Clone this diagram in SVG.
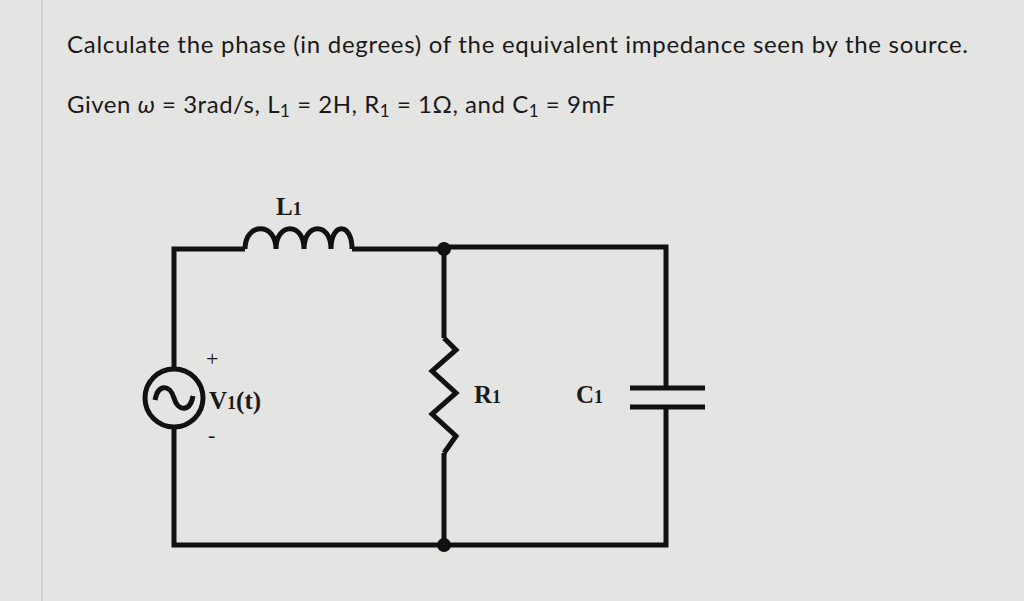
<svg xmlns="http://www.w3.org/2000/svg" width="1024" height="601" viewBox="0 0 1024 601">
<style>
.w{fill:none;stroke:#111;stroke-width:5;stroke-linejoin:miter}
.q{font-family:Lato,"Liberation Sans",sans-serif;font-size:24px;fill:#1a1a1a}
.s{font-family:"Liberation Serif",serif;font-size:25px;font-weight:bold;fill:#1a1a1a}
</style>
<rect width="1024" height="601" fill="#e4e4e2"/>
<line x1="42" y1="0" x2="42" y2="601" stroke="#cfcfcd" stroke-width="2"/>
<text class="q" x="67" y="53" textLength="901">Calculate the phase (in degrees) of the equivalent impedance seen by the source.</text>
<text class="q" x="67" y="113" textLength="548">Given <tspan font-style="italic">ω</tspan> = 3rad/s, L<tspan font-size="17" dy="4">1</tspan><tspan dy="-4"> = 2H, R</tspan><tspan font-size="17" dy="4">1</tspan><tspan dy="-4"> = 1Ω, and C</tspan><tspan font-size="17" dy="4">1</tspan><tspan dy="-4"> = 9mF</tspan></text>
<g id="connectors">
<path class="w" d="M174 368 V249 H245 M352 249 H444 M444 247 H666 V388 M666 407 V545 H444 M444 545 H174 V428 M444 249 V338 M444 453 V545"/>
</g>
<g id="L1">
<path class="w" d="M245 249 C245 222 276 222 276 249 C276 222 304 222 304 249 C304 222 331 222 331 249 C331 222 352 222 352 249"/>
<text class="s" x="276" y="215">L<tspan font-size="18">1</tspan></text>
</g>
<g id="V1">
<circle class="w" cx="174" cy="398" r="29"/>
<path class="w" d="M155 400 C158 384 170 384 174 398 C178 412 190 412 193 396" stroke-width="4"/>
<text x="206" y="366" font-family="Liberation Serif,serif" font-size="22" fill="#1a1a1a">+</text>
<text x="208" y="442" font-family="Liberation Serif,serif" font-size="22" fill="#1a1a1a">-</text>
<text class="s" x="209" y="409">V<tspan font-size="18">1</tspan>(t)</text>
</g>
<g id="R1">
<path class="w" d="M444 338 L456 350 L432 371 L456 393 L432 414 L456 436 L444 453"/>
<text class="s" x="474" y="403">R<tspan font-size="18">1</tspan></text>
</g>
<g id="C1">
<path class="w" d="M630 388 H705 M630 407 H705"/>
<text class="s" x="576" y="403">C<tspan font-size="18">1</tspan></text>
</g>
<g id="nodes">
<circle cx="444" cy="249" r="7" fill="#111"/>
<circle cx="444" cy="545" r="7" fill="#111"/>
</g>
</svg>
